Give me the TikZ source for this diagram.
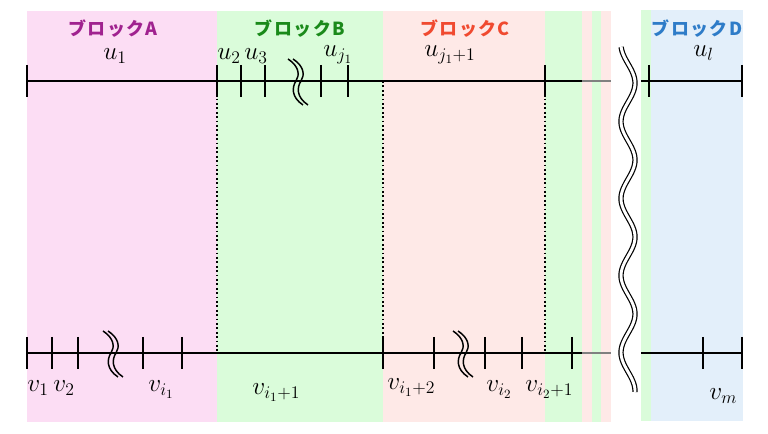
\RequirePackage{fix-cm}
\documentclass[tikz,border=0pt]{standalone}
\usepackage{fontspec}
\newfontfamily\jpfont{Noto Sans CJK JP}
\usepackage{tikz}
\usetikzlibrary{calc}
\usetikzlibrary{positioning}

\definecolor{pinkA}{HTML}{FCDDF4}
\definecolor{greenB}{HTML}{DAFCDA}
\definecolor{pinkC}{HTML}{FEE9E7}
\definecolor{blueD}{HTML}{E3EFFA}
\definecolor{textA}{HTML}{A0228F}
\definecolor{textB}{HTML}{1A8A1A}
\definecolor{textC}{HTML}{F04A30}
\definecolor{textD}{HTML}{2E7CC8}

\begin{document}
\begin{tikzpicture}[x=0.75pt,y=-0.75pt,
	axis/.style={line width=1.8pt},
	tickmark/.style={line width=1.8pt},
	sep/.style={dotted,line width=1.3pt},
	brk/.style={line width=1.1pt},
	blk/.style={inner sep=0pt,font=\jpfont\bfseries\fontsize{13.5}{15}\selectfont},
	lbl/.style={anchor=base west,inner sep=0pt,font=\fontsize{19}{21}\selectfont}]
			\useasboundingbox (0,0) rectangle (768,434);
			%blocks in the background
			\fill[pinkA] (27,11) rectangle (217,422);
			\fill[greenB] (217,11) rectangle (383,422);
			\fill[pinkC] (383,11) rectangle (545,422);
			\fill[greenB] (545,11) rectangle (582,422);
			\fill[pinkC] (582,11) rectangle (592,422);
			\fill[greenB] (592,11) rectangle (601,422);
			\fill[pinkC] (601,11) rectangle (611,422);
			\fill[greenB] (641,10) rectangle (651,421);
			\fill[blueD] (651,10) rectangle (743,421);
			%block names
			\node[blk,text=textA] (blkA) at (113,29) {ブ\hspace{0.08em}ロ\hspace{0.08em}ッ\hspace{0.08em}ク\hspace{0.08em}A};
			\node[blk,text=textB] (blkB) at (300,29) {ブ\hspace{0.08em}ロ\hspace{0.08em}ッ\hspace{0.08em}ク\hspace{0.08em}B};
			\node[blk,text=textC] (blkC) at (465,29) {ブ\hspace{0.08em}ロ\hspace{0.08em}ッ\hspace{0.08em}ク\hspace{0.08em}C};
			\node[blk,text=textD] (blkD) at (697,29) {ブ\hspace{0.08em}ロ\hspace{0.08em}ッ\hspace{0.08em}ク\hspace{0.08em}D};
			%upper line
			\coordinate (ua) at (27,81);
			\coordinate (ub) at (582,81);
			\coordinate (uc) at (611,81);
			\coordinate (ud) at (641,81);
			\coordinate (ue) at (743,81);
			\draw[axis] (ua)--(ub);
			\draw[axis,gray] (ub)--(uc);
			\draw[axis] (ud)--(ue);
			\foreach \x in {27,217,241,265,321,348,545,649,742}
				\draw[tickmark] (\x,65)--(\x,97);
			%lower line
			\coordinate (va) at (27,353);
			\coordinate (vb) at (582,353);
			\coordinate (vc) at (611,353);
			\coordinate (vd) at (641,353);
			\coordinate (ve) at (743,353);
			\draw[axis] (va)--(vb);
			\draw[axis,gray] (vb)--(vc);
			\draw[axis] (vd)--(ve);
			\foreach \x in {27,52,78,143,182,383,434,485,522,572,703,742}
				\draw[tickmark] (\x,337)--(\x,369);
			%block borders
			\foreach \x in {217,383,545}
				\draw[sep] (\x,81)--(\x,353);
			%small breaks
			\foreach \cx/\cy in {295/81,110/353,460/353}
				\foreach \dx in {0,5}
					\draw[brk,shift={(\cx,\cy)}] (\dx-7,-22) .. controls (\dx+4,-15) and (\dx+5,-6) .. (\dx+1,0)
						.. controls (\dx-3,6) and (\dx-4,16) .. (\dx+8,24);
			%big break
			\draw[line width=0.9pt,double=white,double distance=2.2pt,domain=47:392,samples=150,smooth,variable=\y]
				plot ({628+7*sin(4.675*(\y-83)+90)},{\y});
			%labels of u
			\node[lbl] (u1) at (103,60) {$u_1$};
			\node[lbl] (u2) at (217,60) {$u_2$};
			\node[lbl] (u3) at (244,60) {$u_3$};
			\node[lbl] (uj) at (323,57) {$u_{j_1}$};
			\node[lbl] (ujp) at (424,57) {$u_{j_1+1}$};
			\node[lbl] (ul) at (693,57) {$u_l$};
			%labels of v
			\node[lbl] (v1) at (27,392) {$v_1$};
			\node[lbl] (v2) at (53,392) {$v_2$};
			\node[lbl] (vi) at (148,392) {$v_{i_1}$};
			\node[lbl] (vip) at (252,395) {$v_{i_1+1}$};
			\node[lbl] (vipp) at (387,390) {$v_{i_1+2}$};
			\node[lbl] (vk) at (486,392) {$v_{i_2}$};
			\node[lbl] (vkp) at (525,392) {$v_{i_2+1}$};
			\node[lbl] (vm) at (709,400) {$v_m$};
		\end{tikzpicture}
\end{document}
